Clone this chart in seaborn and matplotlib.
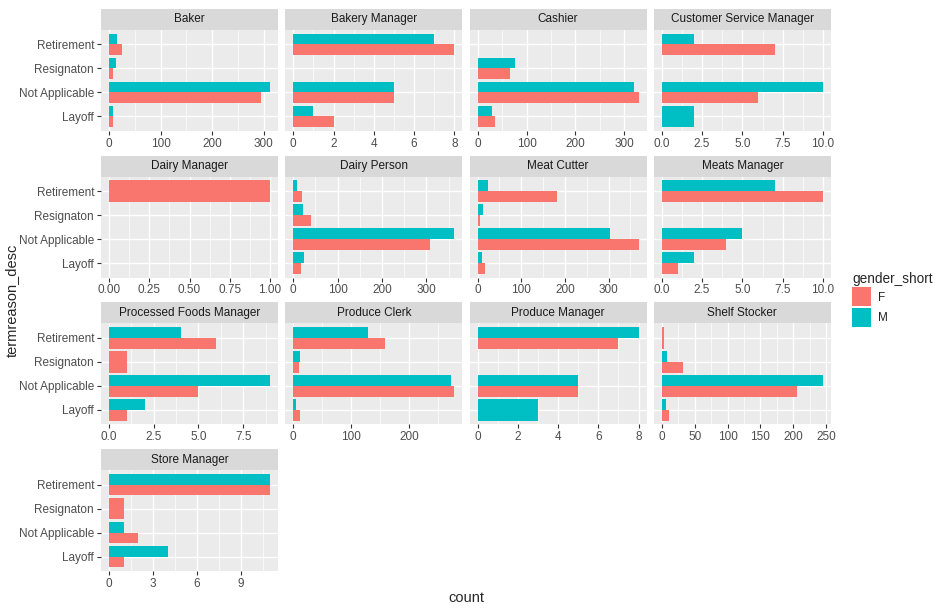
import numpy as np
import pandas as pd
import matplotlib
matplotlib.use("Agg")
import matplotlib.pyplot as plt
from matplotlib.patches import Patch, Rectangle
import seaborn as sns

# termination counts by job title, reason and gender
jobs = ["Baker", "Bakery Manager", "Cashier", "Customer Service Manager",
        "Dairy Manager", "Dairy Person", "Meat Cutter", "Meats Manager",
        "Processed Foods Manager", "Produce Clerk", "Produce Manager",
        "Shelf Stocker", "Store Manager"]
reasons = ["Layoff", "Not Applicable", "Resignaton", "Retirement"]

# one row per job, values in the order of `reasons`; 0 = no bar
female_counts = [
    [8, 295, 8, 26],
    [2, 5, 0, 8],
    [36, 329, 66, 0],
    [0, 6, 0, 7],
    [0, 0, 0, 1],
    [17, 307, 40, 20],
    [17, 369, 6, 183],
    [1, 4, 0, 10],
    [1, 5, 1, 6],
    [11, 278, 10, 159],
    [0, 5, 0, 7],
    [11, 206, 32, 3],
    [1, 2, 1, 11],
]
male_counts = [
    [7, 312, 14, 15],
    [1, 5, 0, 7],
    [30, 320, 77, 1],
    [2, 10, 0, 2],
    [0, 0, 0, 0],
    [25, 363, 21, 8],
    [11, 304, 13, 25],
    [2, 5, 0, 7],
    [2, 9, 0, 4],
    [5, 272, 11, 129],
    [3, 5, 0, 8],
    [7, 245, 8, 0],
    [4, 1, 0, 11],
]
# major break spacing of each panel's x axis
tick_steps = [100, 2, 100, 2.5, 0.25, 100, 100, 2.5, 2.5, 100, 2, 50, 3]

genders = ["F", "M"]
palette = {"F": "#F8766D", "M": "#00BFC4"}

rows = []
for job, f_vals, m_vals in zip(jobs, female_counts, male_counts):
    for reason, f, m in zip(reasons, f_vals, m_vals):
        if f:
            rows.append((job, reason, "F", f))
        if m:
            rows.append((job, reason, "M", m))
df = pd.DataFrame(rows, columns=["job_title", "termreason_desc", "gender_short", "count"])

sns.set_theme(style="darkgrid", rc={
    "axes.facecolor": "#EBEBEB",
    "grid.color": "white",
    "grid.linewidth": 1.0,
    "xtick.color": "#333333",
    "ytick.color": "#333333",
    "xtick.labelcolor": "#4D4D4D",
    "ytick.labelcolor": "#4D4D4D",
    "xtick.labelsize": 8.5,
    "ytick.labelsize": 8.5,
    "xtick.major.size": 3,
    "ytick.major.size": 3,
    "xtick.major.width": 0.8,
    "ytick.major.width": 0.8,
    "xtick.major.pad": 2,
    "ytick.major.pad": 2,
    "xtick.bottom": True,
    "ytick.left": True,
})
plt.rcParams["font.family"] = ["Liberation Sans", "DejaVu Sans"]


def draw_bars(data, color=None, **kws):
    ax = plt.gca()
    for i, reason in enumerate(reasons):
        sub = data[data["termreason_desc"] == reason].sort_values("gender_short")
        n = len(sub)
        if n == 0:
            continue
        # dodge like ggplot: a lone bar fills the whole slot
        h = 0.9 / n
        for k, (_, r) in enumerate(sub.iterrows()):
            ax.barh(i - 0.45 + h * (k + 0.5), r["count"], height=h,
                    color=palette[r["gender_short"]], linewidth=0)


g = sns.FacetGrid(df, col="job_title", col_order=jobs, col_wrap=4,
                  sharex=False, sharey=True, height=1.5, aspect=1.5)
g.map_dataframe(draw_bars)
g.set_titles("")
g.set_axis_labels("", "")

for idx, (ax, job, step) in enumerate(zip(g.axes.flat, jobs, tick_steps)):
    top = df.loc[df["job_title"] == job, "count"].max()
    ax.set_xlim(-0.05 * top, 1.05 * top)
    ticks = np.arange(0, top * 1.05 + 1e-9, step)
    dec = 0 if float(step).is_integer() else len(str(step).split(".")[1])
    ax.set_xticks(ticks)
    ax.set_xticklabels([f"{t:.{dec}f}" for t in ticks])
    minors = np.arange(step / 2, top * 1.05, step)
    ax.set_xticks(minors, minor=True)
    ax.grid(which="minor", axis="x", color="white", linewidth=0.5)
    ax.tick_params(axis="x", which="minor", length=0)
    ax.set_ylim(-0.6, len(reasons) - 0.4)
    ax.set_yticks(range(len(reasons)))
    ax.set_yticklabels(reasons)
    if idx % 4 != 0:
        ax.tick_params(axis="y", left=False, labelleft=False)
    else:
        ax.tick_params(axis="y", left=True, labelleft=True)
    ax.tick_params(axis="x", bottom=True, labelbottom=True)
    for s in ax.spines.values():
        s.set_visible(False)
    # ggplot-like strip
    ax.add_patch(Rectangle((0, 1), 1, 0.21, transform=ax.transAxes,
                           facecolor="#D9D9D9", edgecolor="none", clip_on=False))
    ax.text(0.5, 1.105, job, transform=ax.transAxes, ha="center", va="center",
            fontsize=8.5, color="#1A1A1A")

fig = g.figure
fig.set_size_inches(9.4, 6.08)
fig.subplots_adjust(left=0.1074, right=0.884, top=0.9507, bottom=0.0609,
                    hspace=0.455, wspace=0.04)

fig.text(0.496, 0.016, "count", ha="center", va="center", fontsize=10.5)
fig.text(0.013, 0.506, "termreason_desc", ha="center", va="center",
         rotation=90, fontsize=10.5)

handles = [Patch(facecolor=palette[k], edgecolor="none", label=k) for k in genders]
fig.legend(handles=handles, title="gender_short", loc="upper left",
           bbox_to_anchor=(0.898, 0.567), frameon=False, fontsize=8.5,
           title_fontsize=9.8, handlelength=1.6, handleheight=2.1,
           labelspacing=0.15, handletextpad=0.6, borderpad=0.2,
           alignment="left")

fig.savefig("out.png", dpi=100)
